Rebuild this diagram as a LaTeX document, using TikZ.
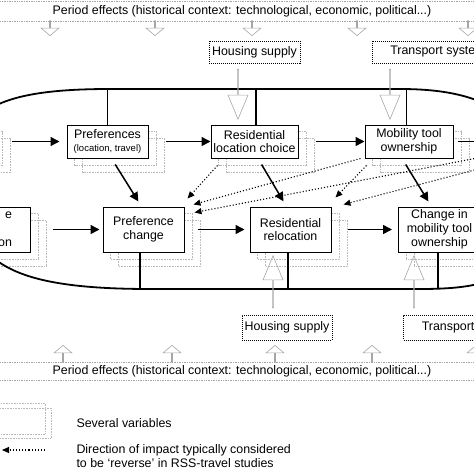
\documentclass[tikz,border=0pt]{standalone}
\usepackage{fontspec}
\setmainfont{Liberation Sans}
\usepackage{tikz}
\usetikzlibrary{shapes.arrows, arrows.meta, positioning, calc, backgrounds}
\tikzstyle{varbox} = [rectangle, 
draw=black, 
line width=1pt, 
fill=white, 
align=center, 
inner sep=2pt, 
minimum height=33pt]
\tikzstyle{changebox} = [varbox, minimum height=45pt, inner ysep=1pt]
\tikzstyle{context} = [rectangle, 
draw=black, 
densely dotted, 
line width=1pt, 
minimum height=22pt, 
inner sep=2pt]
\tikzstyle{varshadow} = [draw=gray!55, densely dotted, line width=0.6pt]
\tikzstyle{arrow} = [line width=1.5pt, -{Triangle[length=9pt, width=9pt]}]
\tikzstyle{revarrow} = [line width=1.1pt, dotted, -{Triangle[length=7pt, width=6pt]}]
\tikzstyle{link} = [line width=1.3pt]
\tikzstyle{oval} = [line width=1.8pt]
\tikzstyle{band} = [draw=gray!70, densely dotted, line width=0.7pt]
\tikzstyle{hollow} = [single arrow, 
draw=gray!70, 
line width=0.6pt, 
inner sep=0pt, 
anchor=tip]
\tikzstyle{bigdown} = [hollow, single arrow head extend=5pt, minimum width=20pt, 
single arrow tip angle=45, shape border rotate=270]
\tikzstyle{bigup} = [bigdown, shape border rotate=90]
\tikzstyle{smalldown} = [hollow, single arrow head extend=5pt, minimum width=18pt, 
minimum height=15pt, single arrow tip angle=100, shape border rotate=270]
\tikzstyle{smallup} = [smalldown, minimum height=17pt, shape border rotate=90]
% two dotted boxes behind a node = several variables
\newcommand{\manyvars}[1]{%
  \draw [varshadow] ($(#1.north west)+(8,7)$) rectangle ($(#1.south east)+(8,7)$);
  \draw [varshadow] ($(#1.north west)+(16,14)$) rectangle ($(#1.south east)+(16,14)$);}

\begin{document}
\begin{tikzpicture}[x=1pt, y=-1pt, font=\fontsize{12.4}{13.8}\selectfont]
        \useasboundingbox (0,0) rectangle (474,474);
        \clip (0,0) rectangle (474,474);

        % --- Period effects ---
        \draw [band] (-5,1) -- (480,1);
        \draw [band] (-5,21) -- (480,21);
        \node (pertop) at (242,11) {Period effects (historical context: technological, economic, political...)};
        \draw [band] (-5,362) -- (480,362);
        \draw [band] (-5,380) -- (480,380);
        \node (perbot) at (242,371) {Period effects (historical context: technological, economic, political...)};
        \foreach \x [count=\i] in {50,155,252,357,468}
            \node (pt\i) [smalldown] at (\x,36) {};
        \foreach \x [count=\i] in {63,172,275,372,476}
            \node (pb\i) [smallup] at (\x,345) {};

        % --- Context boxes ---
        \node (housetop) [context, minimum width=91pt] at (254.5,52) {Housing supply};
        \node (transtop) [context, minimum width=132pt] at (438,52) {Transport system};
        \node (housebot) [context, minimum width=90pt, minimum height=25pt] at (287,327.5) {Housing supply};
        \node (transbot) [context, minimum width=132pt, minimum height=25pt] at (469.5,327.5) {Transport system};

        % --- Variables ---
        \node (lefttop) [varbox, minimum width=88pt] at (-50,141.5) {};
        \node (pref) [varbox, minimum width=81pt] at (107.5,141.5) {Preferences\\{\fontsize{9.5}{11}\selectfont (location, travel)}};
        \node (resloc) [varbox, minimum width=87pt] at (254.5,141.5) {Residential\\location choice};
        \node (mobtool) [varbox, minimum width=88pt] at (409,141.5) {Mobility tool\\ownership};
        \node (righttop) [varbox, minimum width=88pt] at (540,141.5) {};

        \node (leftbot) [changebox, minimum width=90pt, text width=54pt, align=right] at (-15,229.5) {e\\\mbox{}\\on};
        \node (prefch) [changebox, minimum width=81pt] at (143.5,229.5) {Preference\\change};
        \node (resreloc) [changebox, minimum width=81pt] at (290.5,229.5) {Residential\\relocation};
        \node (chmob) [changebox, minimum width=82pt] at (439.5,229.5) {Change in\\mobility tool\\ownership};

        \begin{scope}[on background layer]
            \foreach \n in {lefttop,pref,resloc,mobtool,leftbot,prefch,resreloc,chmob}
                \manyvars{\n};
        \end{scope}

        % --- Oval ---
        \draw [oval] (-30,130) .. controls (-15,97) and (40,89) .. (110,89) -- (400,89)
            .. controls (450,89) and (485,98) .. (510,120) -- (510,270)
            .. controls (490,283) and (470,289) .. (420,289) -- (150,289)
            .. controls (60,289) and (15,278) .. (-10,255) -- cycle;
        \coordinate (ovaltop) at (0,89.5);
        \coordinate (ovalbot) at (0,288.5);
        \draw [link] (pref.north) -- (pref.north |- ovaltop);
        \draw [link] ([xshift=1.5pt]resloc.north) -- ([xshift=1.5pt]resloc.north |- ovaltop);
        \draw [link] ([xshift=-2.5pt]mobtool.north) -- ([xshift=-2.5pt]mobtool.north |- ovaltop);
        \draw [link] ([xshift=-3.5pt]prefch.south) -- ([xshift=-3.5pt]prefch.south |- ovalbot);
        \draw [link] ([xshift=-2.5pt]resreloc.south) -- ([xshift=-2.5pt]resreloc.south |- ovalbot);
        \draw [link] ([xshift=-1.5pt]chmob.south) -- ([xshift=-1.5pt]chmob.south |- ovalbot);

        % --- Context impacts ---
        \node (hsdown) [bigdown, minimum height=50pt] at (238,120) {};
        \node (tsdown) [bigdown, minimum height=50pt] at (390,120) {};
        \node (hsup) [bigup, minimum height=52pt] at (273,255) {};
        \node (tsup) [bigup, minimum height=52pt] at (414,255) {};

        % --- Main flow ---
        \draw [arrow, shorten <=17pt, shorten >=7pt] (lefttop) -- (pref);
        \draw [arrow, shorten <=17pt] (pref) -- (resloc);
        \draw [arrow, shorten <=17pt] (resloc) -- (mobtool);
        \draw [arrow, shorten <=4pt] (mobtool) -- (righttop);
        \draw [arrow, shorten <=22pt, shorten >=3pt] (leftbot) -- (prefch);
        \draw [arrow, shorten <=13pt, shorten >=5pt] (prefch) -- (resreloc);
        \draw [arrow, shorten <=16pt, shorten >=6pt] (resreloc) -- (chmob);

        \draw [arrow, shorten <=7pt, shorten >=6pt] ([xshift=4pt]pref.south) -- ([xshift=-2pt]prefch.north);
        \draw [arrow, shorten <=7pt, shorten >=6pt] ([xshift=3.5pt]resloc.south) -- ([xshift=-4pt]resreloc.north);
        \draw [arrow, shorten <=7pt, shorten >=6pt] ([xshift=-7pt]mobtool.south) -- ([xshift=-8pt]chmob.north);

        % --- Reverse directions ---
        \draw [revarrow] ($(resloc.south west)+(7,7)$) -- ($(prefch.north east)+(3,-8)$);
        \draw [revarrow] ($(mobtool.south west)+(-4,0)$) -- ($(prefch.north east)+(9,-2)$);
        \draw [revarrow] ($(righttop.south west)+(0,-4)$) -- ($(prefch.north east)+(10,6)$);
        \draw [revarrow] ($(mobtool.south west)+(2,7)$) -- ($(resreloc.north east)+(4,-9)$);
        \draw [revarrow] ($(righttop.south west)+(0,6)$) -- ($(resreloc.north east)+(12,-2)$);

        % --- Legend ---
        \draw [varshadow] (-40,403) rectangle (45,434);
        \draw [varshadow] (-34,408) rectangle (51,438);
        \coordinate (legfrom) at (45,450);
        \coordinate (legto) at (2,450);
        \draw [revarrow] (legfrom) -- (legto);
        \node (legvars) [anchor=west] at (73,423) {Several variables};
        \node (legrev) [anchor=west, align=left] at (73,456) {Direction of impact typically considered\\to be `reverse' in RSS-travel studies};

    \end{tikzpicture}
\end{document}
